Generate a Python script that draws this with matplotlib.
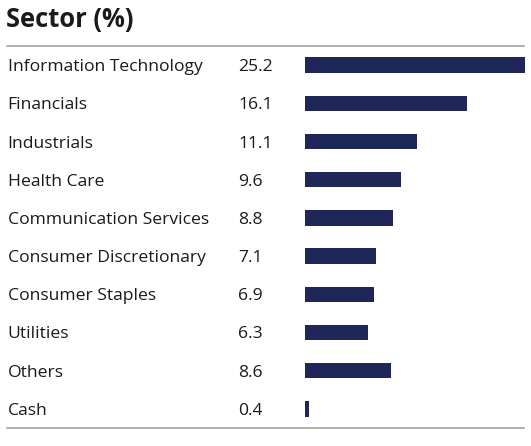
import matplotlib.pyplot as plt
from matplotlib.lines import Line2D
from matplotlib.transforms import blended_transform_factory

sectors = ["Information Technology", "Financials", "Industrials", "Health Care",
           "Communication Services", "Consumer Discretionary", "Consumer Staples",
           "Utilities", "Others", "Cash"]
weights = [25.2, 16.1, 11.1, 9.6, 8.8, 7.1, 6.9, 6.3, 8.6, 0.4]

W, H = 531, 446
BAR_COLOR = "#1e2757"
TEXT_COLOR = "#1a1a1a"

plt.rcParams["font.family"] = ["Open Sans", "DejaVu Sans"]

fig = plt.figure(figsize=(W / 100, H / 100), dpi=100)
fig.patch.set_facecolor("white")

# bar area (pixel layout -> figure fractions)
top_px, bot_px = 46, 428
left_px, right_px = 305, 524.7
ax = fig.add_axes([left_px / W, 1 - bot_px / H, (right_px - left_px) / W, (bot_px - top_px) / H])
ax.barh(range(len(weights)), weights, height=0.4, color=BAR_COLOR)
# the source caps long bars at the column width (~10 px per %), so the top bar is clipped
ax.set_xlim(0, 21.86)
ax.set_ylim(len(weights) - 0.5, -0.5)
ax.axis("off")

# labels and values
tr = blended_transform_factory(fig.transFigure, ax.transData)
for i, (name, val) in enumerate(zip(sectors, weights)):
    ax.text(7.5 / W, i, name, transform=tr, ha="left", va="center_baseline",
            fontsize=12.6, color=TEXT_COLOR)
    ax.text(238 / W, i, f"{val:.1f}", transform=tr, ha="left", va="center_baseline",
            fontsize=12.6, color=TEXT_COLOR)

# title
fig.text(6.5 / W, 1 - 27 / H, "Sector (%)", ha="left", va="baseline",
         fontsize=18.4, fontweight="bold", color=TEXT_COLOR)

# top and bottom rules
for y in (top_px, bot_px):
    fig.add_artist(Line2D([7 / W, 524 / W], [1 - y / H, 1 - y / H],
                          transform=fig.transFigure, color="#9a9a9a", lw=1.1))

fig.savefig("out.png", dpi=100)
